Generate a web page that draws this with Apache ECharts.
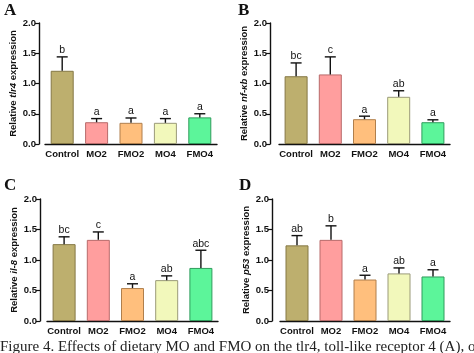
<!DOCTYPE html>
<html lang="en">
<head>
	<meta charset="UTF-8">
	<title>Figure 4</title>
	<style>
		html, body { margin: 0; padding: 0; background: #fff; }
	</style>
</head>
<body>
	<div id='main' style="width:474px;height:353px;"></div>
</body>
<script type="text/javascript" src="https://cdn.jsdelivr.net/npm/echarts@6/dist/echarts.min.js"></script>
<script type="text/javascript">
    var categories = ['Control', 'MO2', 'FMO2', 'MO4', 'FMO4'];
    var yTicks = [0, 0.5, 1.0, 1.5, 2.0];

    // mean and SD (upper whisker only) per gene
    var tlr4 = [1.21, 0.36, 0.35, 0.35, 0.44];
    var tlr4Sd = [0.23, 0.06, 0.08, 0.07, 0.06];
    var tlr4Sig = ['b', 'a', 'a', 'a', 'a'];

    var nfkb = [1.12, 1.15, 0.41, 0.78, 0.36];
    var nfkbSd = [0.22, 0.29, 0.05, 0.10, 0.04];
    var nfkbSig = ['bc', 'c', 'a', 'ab', 'a'];

    var il8 = [1.26, 1.33, 0.54, 0.67, 0.87];
    var il8Sd = [0.12, 0.13, 0.07, 0.07, 0.29];
    var il8Sig = ['bc', 'c', 'a', 'ab', 'abc'];

    var p53 = [1.24, 1.33, 0.68, 0.78, 0.73];
    var p53Sd = [0.16, 0.23, 0.07, 0.09, 0.11];
    var p53Sig = ['ab', 'b', 'a', 'ab', 'a'];

    var barColors = ['#bdaf6e', '#ff9e9e', '#ffbf7d', '#f2f8bb', '#5cf59a'];
    var barBorders = ['#857845', '#b86b6b', '#b07f4c', '#9a9a78', '#2f9c5c'];

    var panels = [
        {letter: 'A', gene: 'tlr4', data: tlr4, sd: tlr4Sd, sig: tlr4Sig,
         grid: {left: 45, top: 23, width: 172, height: 121}, offset: 6, lx: 4, ly: 2},
        {letter: 'B', gene: 'nf-κb', data: nfkb, sd: nfkbSd, sig: nfkbSig,
         grid: {left: 279, top: 23, width: 171, height: 121}, offset: 9, lx: 238, ly: 2},
        {letter: 'C', gene: 'il-8', data: il8, sd: il8Sd, sig: il8Sig,
         grid: {left: 47, top: 199, width: 171, height: 122}, offset: 7, lx: 4, ly: 177},
        {letter: 'D', gene: 'p53', data: p53, sd: p53Sd, sig: p53Sig,
         grid: {left: 280, top: 199, width: 170, height: 122}, offset: 8, lx: 239, ly: 177}
    ];

    var grids = [], xAxes = [], yAxes = [], series = [], graphics = [];

    panels.forEach(function (p, k) {
        grids.push(p.grid);
        xAxes.push({
            type: 'category',
            gridIndex: k,
            data: categories,
            axisLine: {lineStyle: {color: '#111', width: 1.4}},
            axisTick: {alignWithLabel: true, length: 3, lineStyle: {color: '#111', width: 1.2}},
            axisLabel: {interval: 0, color: '#111', fontFamily: 'Liberation Sans', fontWeight: 'bold', fontSize: 9.5, margin: 5}
        });
        yAxes.push({
            type: 'value',
            gridIndex: k,
            min: yTicks[0],
            max: yTicks[yTicks.length - 1],
            interval: 0.5,
            offset: p.offset,
            axisLine: {show: true, lineStyle: {color: '#111', width: 1.4}},
            axisTick: {show: true, length: 4, lineStyle: {color: '#111', width: 1.2}},
            splitLine: {show: false},
            axisLabel: {
                color: '#111', fontFamily: 'Liberation Sans', fontWeight: 'bold', fontSize: 9.5, margin: 3,
                formatter: function (v) { return v.toFixed(1); }
            },
            name: '{n|Relative }{g|' + p.gene + '}{n| expression}',
            nameLocation: 'middle',
            nameRotate: 90,
            nameGap: 21,
            nameTextStyle: {
                rich: {
                    n: {fontFamily: 'Liberation Sans', fontWeight: 'bold', fontSize: 9.5, color: '#111'},
                    g: {fontFamily: 'Liberation Sans', fontWeight: 'bold', fontStyle: 'italic', fontSize: 9.5, color: '#111'}
                }
            }
        });
        series.push({
            type: 'bar',
            xAxisIndex: k,
            yAxisIndex: k,
            barWidth: 23,
            silent: true,
            data: p.data.map(function (v, i) {
                return {value: v, itemStyle: {color: barColors[i], borderColor: barBorders[i], borderWidth: 1}};
            })
        });
        series.push({
            type: 'custom',
            xAxisIndex: k,
            yAxisIndex: k,
            silent: true,
            z: 5,
            data: p.data.map(function (v, i) { return [i, v, v + p.sd[i]]; }),
            renderItem: function (params, api) {
                var i = api.value(0);
                var base = api.coord([i, api.value(1)]);
                var top = api.coord([i, api.value(2)]);
                var st = {stroke: '#111', lineWidth: 1.4};
                return {
                    type: 'group',
                    children: [
                        {type: 'line', shape: {x1: base[0], y1: base[1], x2: top[0], y2: top[1]}, style: st},
                        {type: 'line', shape: {x1: top[0] - 5.5, y1: top[1], x2: top[0] + 5.5, y2: top[1]}, style: st},
                        {type: 'text', x: top[0], y: top[1] - 1,
                         style: {text: p.sig[i], fill: '#111', fontFamily: 'Liberation Sans', fontSize: 10.5,
                                 align: 'center', verticalAlign: 'bottom'}}
                    ]
                };
            }
        });
        graphics.push({
            type: 'text', left: p.lx, top: p.ly,
            style: {text: p.letter, fill: '#111', font: 'bold 17px "Liberation Serif"'}
        });
    });

    graphics.push({
        type: 'text', left: 0, top: 340,
        style: {text: 'Figure 4. Effects of dietary MO and FMO on the tlr4, toll-like receptor 4 (A), of the',
                fill: '#222', font: '15px "Liberation Serif"'}
    });

    var option = {
        animation: false,
        backgroundColor: '#fff',
        grid: grids,
        xAxis: xAxes,
        yAxis: yAxes,
        series: series,
        graphic: graphics
    };

    var myChart = echarts.init(document.getElementById('main'));
    myChart.setOption(option);
</script>
</html>
